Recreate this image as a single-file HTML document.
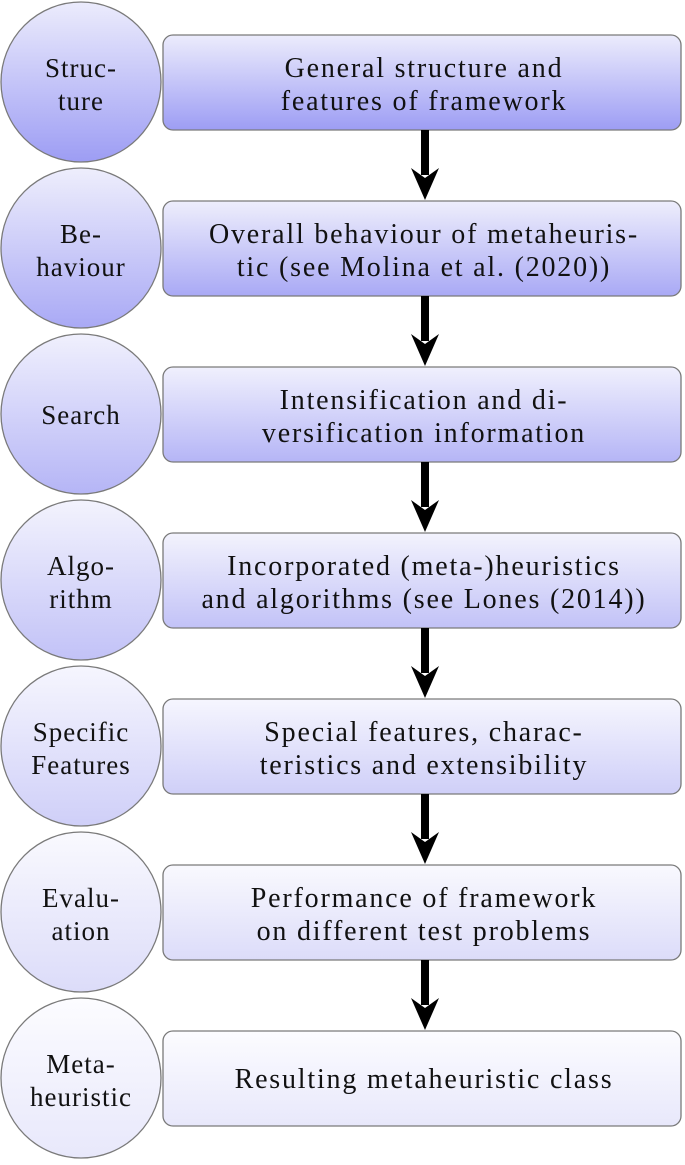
<!DOCTYPE html>
<html><head><meta charset="utf-8"><style>
body{margin:0;background:#fff;}
svg text{font-family:"Liberation Serif",serif;font-size:28px;letter-spacing:1.8px;fill:#111;text-anchor:middle;}
svg text.c{font-size:27px;letter-spacing:1px;}
</style></head><body>
<svg width="685" height="1160" viewBox="0 0 685 1160" xmlns="http://www.w3.org/2000/svg">
<defs>
<linearGradient id="g0" x1="0" y1="0" x2="0" y2="1"><stop offset="0" stop-color="#ececfc"/><stop offset="1" stop-color="#9d9df4"/></linearGradient>
<linearGradient id="g1" x1="0" y1="0" x2="0" y2="1"><stop offset="0" stop-color="#eeeefc"/><stop offset="1" stop-color="#a9a9f5"/></linearGradient>
<linearGradient id="g2" x1="0" y1="0" x2="0" y2="1"><stop offset="0" stop-color="#f0f0fd"/><stop offset="1" stop-color="#b5b5f6"/></linearGradient>
<linearGradient id="g3" x1="0" y1="0" x2="0" y2="1"><stop offset="0" stop-color="#f3f3fd"/><stop offset="1" stop-color="#c2c2f7"/></linearGradient>
<linearGradient id="g4" x1="0" y1="0" x2="0" y2="1"><stop offset="0" stop-color="#f6f6fe"/><stop offset="1" stop-color="#cfcff8"/></linearGradient>
<linearGradient id="g5" x1="0" y1="0" x2="0" y2="1"><stop offset="0" stop-color="#f9f9fe"/><stop offset="1" stop-color="#dcdcf9"/></linearGradient>
<linearGradient id="g6" x1="0" y1="0" x2="0" y2="1"><stop offset="0" stop-color="#fcfcff"/><stop offset="1" stop-color="#e8e8fb"/></linearGradient>
</defs>
<g stroke="#7a7a7a" stroke-width="1.3">
<circle cx="81" cy="82" r="80" fill="url(#g0)"/>
<rect x="163" y="35" width="518" height="95" rx="10" fill="url(#g0)"/>
<circle cx="81" cy="248" r="80" fill="url(#g1)"/>
<rect x="163" y="201" width="518" height="95" rx="10" fill="url(#g1)"/>
<circle cx="81" cy="414" r="80" fill="url(#g2)"/>
<rect x="163" y="367" width="518" height="95" rx="10" fill="url(#g2)"/>
<circle cx="81" cy="580" r="80" fill="url(#g3)"/>
<rect x="163" y="533" width="518" height="95" rx="10" fill="url(#g3)"/>
<circle cx="81" cy="746" r="80" fill="url(#g4)"/>
<rect x="163" y="699" width="518" height="95" rx="10" fill="url(#g4)"/>
<circle cx="81" cy="912" r="80" fill="url(#g5)"/>
<rect x="163" y="865" width="518" height="95" rx="10" fill="url(#g5)"/>
<circle cx="81" cy="1078" r="80" fill="url(#g6)"/>
<rect x="163" y="1031" width="518" height="95" rx="10" fill="url(#g6)"/>
</g>
<g fill="#000">
<rect x="421" y="130" width="8" height="45"/><polygon points="411,168 425,200 439,168 425,178"/>
<rect x="421" y="296" width="8" height="45"/><polygon points="411,334 425,366 439,334 425,344"/>
<rect x="421" y="462" width="8" height="45"/><polygon points="411,500 425,532 439,500 425,510"/>
<rect x="421" y="628" width="8" height="45"/><polygon points="411,666 425,698 439,666 425,676"/>
<rect x="421" y="794" width="8" height="45"/><polygon points="411,832 425,864 439,832 425,842"/>
<rect x="421" y="960" width="8" height="45"/><polygon points="411,998 425,1030 439,998 425,1008"/>
</g>
<text class="c" x="81" y="77">Struc-</text><text class="c" x="81" y="110">ture</text>
<text x="424" y="77">General structure and</text><text x="424" y="110">features of framework</text>
<text class="c" x="81" y="243">Be-</text><text class="c" x="81" y="276">haviour</text>
<text x="424" y="243">Overall behaviour of metaheuris-</text><text x="424" y="276">tic (see Molina et al. (2020))</text>
<text class="c" x="81" y="424">Search</text>
<text x="424" y="409">Intensification and di-</text><text x="424" y="442">versification information</text>
<text class="c" x="81" y="575">Algo-</text><text class="c" x="81" y="608">rithm</text>
<text x="424" y="575">Incorporated (meta-)heuristics</text><text x="424" y="608">and algorithms (see Lones (2014))</text>
<text class="c" x="81" y="741">Specific</text><text class="c" x="81" y="774">Features</text>
<text x="424" y="741">Special features, charac-</text><text x="424" y="774">teristics and extensibility</text>
<text class="c" x="81" y="907">Evalu-</text><text class="c" x="81" y="940">ation</text>
<text x="424" y="907">Performance of framework</text><text x="424" y="940">on different test problems</text>
<text class="c" x="81" y="1073">Meta-</text><text class="c" x="81" y="1106">heuristic</text>
<text x="424" y="1088">Resulting metaheuristic class</text>
</svg>
</body></html>
